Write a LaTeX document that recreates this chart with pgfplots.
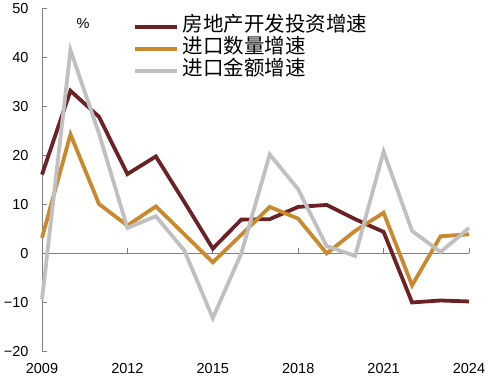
\documentclass[border=0pt]{standalone}
\usepackage{pgfplots}
\pgfplotsset{compat=1.18}
\usepackage{fontspec}
\setmainfont{Liberation Sans}
\newfontfamily\cjk{Noto Sans CJK SC}
\definecolor{cbrown}{HTML}{6B2226}
\definecolor{corange}{HTML}{C8892F}
\definecolor{cgray}{HTML}{C0C0C0}
\definecolor{caxis}{HTML}{808080}
\begin{document}
\begin{tikzpicture}
\begin{axis}[
  scale only axis, width=427bp, height=343bp,
  xmin=2009, xmax=2024, ymin=-20, ymax=50,
  axis y line*=left, axis x line*=bottom,
  x axis line style={draw=none},
  y axis line style={caxis, line width=0.8bp},
  xtick={2009,2012,2015,2018,2021,2024},
  xticklabels={2009,2012,2015,2018,2021,2024},
  ytick={-20,-10,0,10,20,30,40,50},
  yticklabels={−20,−10,0,10,20,30,40,50},
  xtick style={draw=none},
  ytick style={caxis, line width=0.8bp},
  tick align=inside, major tick length=5bp,
  tick label style={font=\fontsize{14.5bp}{16bp}\selectfont},
  yticklabel style={xshift=-10bp},
  xticklabel style={yshift=-8bp},
  legend style={at={(rel axis cs:0.212,0.98)}, anchor=north west, draw=none, fill=none,
    font=\cjk\fontsize{20.5bp}{22bp}\selectfont, row sep=0pt, inner sep=0pt,
    nodes={inner sep=0pt, text height=16bp, text depth=6bp},
    /tikz/every odd column/.append style={column sep=4bp}},
  legend cell align=left,
  legend image code/.code={\draw[#1, line width=4bp] (0bp,0bp) -- (42bp,0bp);},
  clip=false,
]
\draw[caxis, line width=0.8bp] (axis cs:2009,0) -- (axis cs:2024,0);
\draw[caxis, line width=0.8bp] (axis cs:2012,0) -- (axis cs:2012,1.1);
\draw[caxis, line width=0.8bp] (axis cs:2015,0) -- (axis cs:2015,1.1);
\draw[caxis, line width=0.8bp] (axis cs:2018,0) -- (axis cs:2018,1.1);
\draw[caxis, line width=0.8bp] (axis cs:2021,0) -- (axis cs:2021,1.1);
\draw[caxis, line width=0.8bp] (axis cs:2024,0) -- (axis cs:2024,1.1);
\addplot[cbrown, line width=3.8bp] coordinates {
(2009,16.1) (2010,33.2) (2011,27.9) (2012,16.2) (2013,19.8) (2014,10.5) (2015,1.0) (2016,6.9)
(2017,7.0) (2018,9.5) (2019,9.9) (2020,7.0) (2021,4.4) (2022,-10.0) (2023,-9.6) (2024,-9.8)};
\addlegendentry{房地产开发投资增速}
\addplot[corange, line width=3.8bp] coordinates {
(2009,3.2) (2010,24.3) (2011,10.1) (2012,5.7) (2013,9.6) (2014,3.9) (2015,-1.8) (2016,3.8)
(2017,9.5) (2018,7.1) (2019,0.0) (2020,4.6) (2021,8.3) (2022,-6.5) (2023,3.5) (2024,3.9)};
\addlegendentry{进口数量增速}
\addplot[cgray, line width=3.8bp] coordinates {
(2009,-9.4) (2010,41.5) (2011,24.5) (2012,5.2) (2013,7.6) (2014,0.6) (2015,-13.2) (2016,0.0)
(2017,20.2) (2018,13.1) (2019,1.5) (2020,-0.5) (2021,20.8) (2022,4.6) (2023,0.3) (2024,5.2)};
\addlegendentry{进口金额增速}
\node[font=\fontsize{14.5bp}{16bp}\selectfont] at (axis cs:2010.44,47) {\%};
\coordinate (O) at (rel axis cs:0,0);
\coordinate (T) at (rel axis cs:1,1);
\end{axis}
\path ([shift={(-42bp,-29bp)}]O) rectangle ([shift={(29bp,8bp)}]T);
\end{tikzpicture}
\end{document}
